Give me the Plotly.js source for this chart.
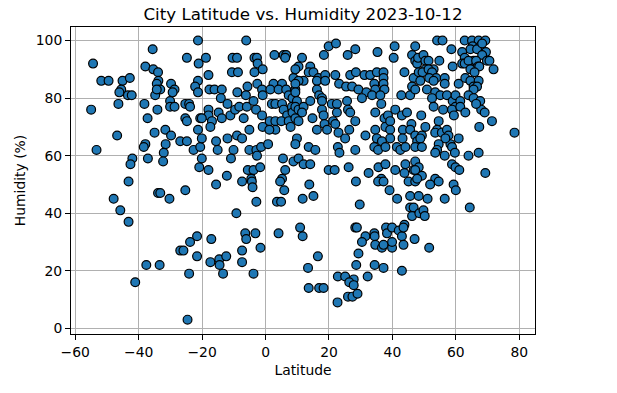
<!DOCTYPE html>
<html>
<head>
<meta charset="utf-8">
<script src="https://cdn.plot.ly/plotly-3.0.1.min.js"></script>
<style>html,body{margin:0;padding:0;background:#fff}#chart{width:617px;height:393px}</style>
</head>
<body>
<div id="chart"></div>
<script>
// City latitude (degrees) and humidity (%)
const latitude = [
-35.6,-54.4,-51.8,-49.5,-45.1,-42.8,-37.9,-35.4,-33.9,-33.8,-34.3,-33.2,-29.8,-28.7,-29.3,-45.5,-46.1,-43.4,-42.2,-34.8,-34.3,-30.1,-30.1,-28.7,-55.0,-46.4,-38.2,-34.1,-37.2,-35.0,-31.6,-29.8,-26.9,-46.8,-53.3,-37.9,-38.4,-37.1,-31.5,-32.1,-32.3,-42.0,-42.6,-43.2,
-47.9,-45.8,-43.2,-33.9,-33.2,-30.3,-26.9,-37.6,-33.4,-41.1,
-21.3,-6.1,-24.8,-18.8,-21.1,-10.4,-9.0,-3.5,-2.7,-2.5,2.8,5.7,6.5,6.2,-10.6,-8.7,-3.5,-0.9,-18.0,-21.3,-22.2,-21.3,-17.7,-16.1,-13.8,-8.9,-5.7,-2.6,-1.1,-0.9,-6.2,-14.1,2.5,5.2,1.5,4.1,6.5,8.8,9.4,7.3,8.5,
-25.3,-24.1,-23.8,-18.0,-18.0,-14.8,-12.0,-11.1,-9.6,-8.3,-5.9,-3.8,-3.0,-1.1,-0.9,-6.9,-25.3,-24.8,-20.6,-20.1,-16.9,-17.4,-13.8,2.0,3.1,5.2,5.7,6.8,8.3,8.5,1.3,3.1,5.0,7.3,7.9,
3.1,1.2,-21.3,-24.8,-22.7,-20.6,-20.1,-15.6,-15.1,-12.0,-9.0,-7.4,-10.1,-5.1,-5.1,-2.9,-1.4,0.8,-2.7,-20.1,-20.9,-10.9,5.5,8.8,-18.0,-12.2,-5.6,-3.8,-1.7,-7.4,-4.5,-4.3,-15.6,6.2,5.2,4.6,
-25.3,-4.1,-2.9,5.9,3.6,4.9,-9.2,-21.6,-23.8,-25.9,-21.6,-17.1,-6.4,-6.1,-3.2,-7.4,-1.6,4.1,-17.4,-14.6,-14.5,-12.4,-7.4,-24.1,-13.4,-3.8,-24.6,
19.9,22.2,18.4,25.9,28.3,35.3,40.7,40.4,47.2,46.2,47.2,47.8,11.5,10.4,9.4,14.1,13.6,15.1,16.7,16.2,18.8,18.8,12.0,10.4,9.4,22.0,26.7,28.5,31.2,33.0,35.1,37.2,37.2,23.2,25.4,27.3,29.3,34.3,34.6,37.2,37.5,31.8,33.6,30.4,36.2,36.5,43.8,46.7,46.2,42.8,45.6,
9.4,9.9,9.4,10.4,12.0,11.5,9.4,10.4,14.1,14.8,16.2,16.9,17.8,17.8,17.8,18.3,18.6,19.4,16.2,20.9,22.5,22.5,21.3,22.0,23.0,25.1,25.7,26.0,26.7,28.3,26.4,31.5,34.6,34.6,37.5,38.6,37.8,39.3,39.3,39.3,35.1,36.7,34.3,35.5,37.8,
40.9,43.0,43.3,44.6,46.0,45.6,43.2,41.4,42.5,44.1,47.2,47.8,47.2,9.9,9.4,13.6,15.7,22.8,23.3,28.3,10.4,12.0,14.1,19.9,21.8,26.2,32.5,35.6,36.5,37.8,44.1,47.2,46.7,43.8,40.9,35.5,37.2,45.1,47.2,13.8,
28.5,11.7,15.1,39.1,41.5,29.7,45.6,48.3,45.6,46.7,46.2,48.5,10.9,11.7,28.3,28.8,31.5,30.4,34.3,34.4,34.6,29.3,36.7,37.2,39.9,39.9,38.0,38.3,39.9,42.0,43.0,43.5,43.8,47.0,43.5,
16.5,13.4,28.6,34.4,37.2,43.0,22.8,25.1,27.8,26.4,27.8,32.2,13.6,16.9,18.3,26.0,27.4,29.0,22.7,
54.1,55.8,62.8,65.1,67.2,69.3,65.3,67.7,64.6,66.7,69.5,68.3,58.6,62.0,62.8,68.3,65.6,69.8,70.6,48.1,49.8,50.4,51.4,50.4,54.8,53.0,59.0,62.0,62.8,64.0,66.4,67.0,64.6,67.4,71.9,
48.3,49.5,51.4,52.5,53.8,51.6,53.0,48.8,56.5,56.5,60.9,63.0,65.9,64.6,67.2,65.6,66.7,65.6,47.2,50.9,53.5,55.1,57.2,52.5,53.0,56.0,59.0,59.9,59.9,58.8,59.4,61.4,61.4,63.0,64.0,65.6,67.7,68.0,69.1,66.4,
49.1,54.6,54.1,50.4,49.3,48.8,49.3,53.5,55.6,57.2,57.7,58.3,60.9,56.7,54.6,54.1,53.5,56.5,58.8,59.7,64.0,67.2,71.4,67.4,78.5,
48.3,49.3,58.8,59.9,61.1,53.5,54.6,51.9,59.3,69.3,47.2,47.8,
60.0,51.1,56.5,49.8,50.2,64.4,51.6
];
const humidity = [
97,92,86,86,86,87,91,90,89,86,85,83,85,83,82,83,82,81,81,81,83,79,77,77,76,78,78,76,73,68,69,67,65,67,62,64,63,59,64,61,58,59,57,51,
45,41,37,47,47,45,27,22,22,16,
100,100,94,94,92,94,94,94,94,92,95,95,95,94,89,89,89,90,88,86,84,82,83,83,83,82,84,85,83,81,81,80,85,85,83,83,83,87,83,81,80,
78,78,77,76,74,75,78,74,76,77,77,79,76,74,70,73,73,72,73,73,72,70,73,78,78,78,76,74,77,75,72,72,72,72,70,
69,69,69,65,62,63,66,65,62,66,67,66,62,69,62,62,63,64,60,59,56,59,59,58,55,53,55,55,56,51,52,51,50,55,52,51,
48,49,44,48,44,44,40,32,30,27,25,31,33,31,33,27,28,33,23,24,22,25,23,19,19,19,3,
98,99,95,95,97,96,98,94,98,95,93,92,94,91,90,91,89,89,87,86,88,86,86,86,85,88,88,89,88,88,89,89,87,85,84,84,83,85,83,85,83,82,81,80,81,78,89,87,84,81,81,
82,79,77,76,77,75,73,72,79,73,83,81,80,79,76,74,71,69,69,78,78,75,72,71,68,66,79,76,75,72,69,67,75,69,73,74,70,72,69,66,66,65,63,62,63,
76,74,69,75,71,69,66,63,62,63,67,65,63,66,64,63,62,63,61,62,59,57,57,55,55,56,54,56,52,57,57,58,55,54,55,51,51,51,51,50,
51,45,46,48,45,43,46,46,42,42,39,40,35,32,35,35,32,30,33,32,29,26,28,29,28,30,35,33,35,34,32,29,36,31,35,
25,21,22,22,21,20,18,18,17,16,15,18,14,14,14,11,11,12,9,
100,100,100,100,100,100,98,98,97,97,96,99,97,96,94,95,93,93,93,94,95,93,93,90,93,90,91,92,92,93,93,91,90,91,90,
89,89,90,89,87,87,86,86,87,85,85,87,89,86,86,84,84,83,83,83,82,81,81,80,77,76,79,81,77,76,74,79,77,75,81,80,79,76,75,78,
74,72,69,70,67,66,63,68,68,69,67,64,66,66,64,62,61,60,63,61,60,61,72,70,68,
56,53,57,56,55,52,51,50,50,54,55,52,
48,45,45,41,39,42,28
];

const data = [{
  type: 'scatter',
  mode: 'markers',
  x: latitude,
  y: humidity,
  marker: {size: 8.8, color: '#1f77b4', line: {color: '#000000', width: 1.2}},
  hoverinfo: 'x+y'
}];

const axisCommon = {
  showline: true, mirror: true, linecolor: '#000', linewidth: 1,
  showgrid: true, gridcolor: '#b0b0b0', gridwidth: 1,
  zeroline: false,
  ticks: 'outside', ticklen: 5, tickwidth: 1, tickcolor: '#000',
  tickfont: {family: 'DejaVu Sans', size: 13.9, color: '#000'}
};

const layout = {
  width: 617, height: 393,
  margin: {l: 71, r: 82, t: 27, b: 59, pad: 0},
  paper_bgcolor: '#fff', plot_bgcolor: '#fff',
  showlegend: false,
  font: {family: 'DejaVu Sans', color: '#000'},
  title: {
    text: 'City Latitude vs. Humidity 2023-10-12',
    font: {family: 'DejaVu Sans', size: 16.7, color: '#000'},
    xref: 'paper', x: 0.5, xanchor: 'center',
    yref: 'paper', y: 1, yanchor: 'bottom', pad: {b: 7}
  },
  xaxis: Object.assign({}, axisCommon, {
    range: [-61.35, 84.97],
    tickvals: [-60, -40, -20, 0, 20, 40, 60, 80],
    title: {text: 'Latitude', font: {family: 'DejaVu Sans', size: 13.9, color: '#000'}, standoff: 6}
  }),
  yaxis: Object.assign({}, axisCommon, {
    range: [-1.98, 104.72],
    tickvals: [0, 20, 40, 60, 80, 100],
    title: {text: 'Humidity (%)', font: {family: 'DejaVu Sans', size: 13.9, color: '#000'}, standoff: 6}
  })
};

Plotly.newPlot('chart', data, layout, {displayModeBar: false, staticPlot: true});
</script>
</body>
</html>
